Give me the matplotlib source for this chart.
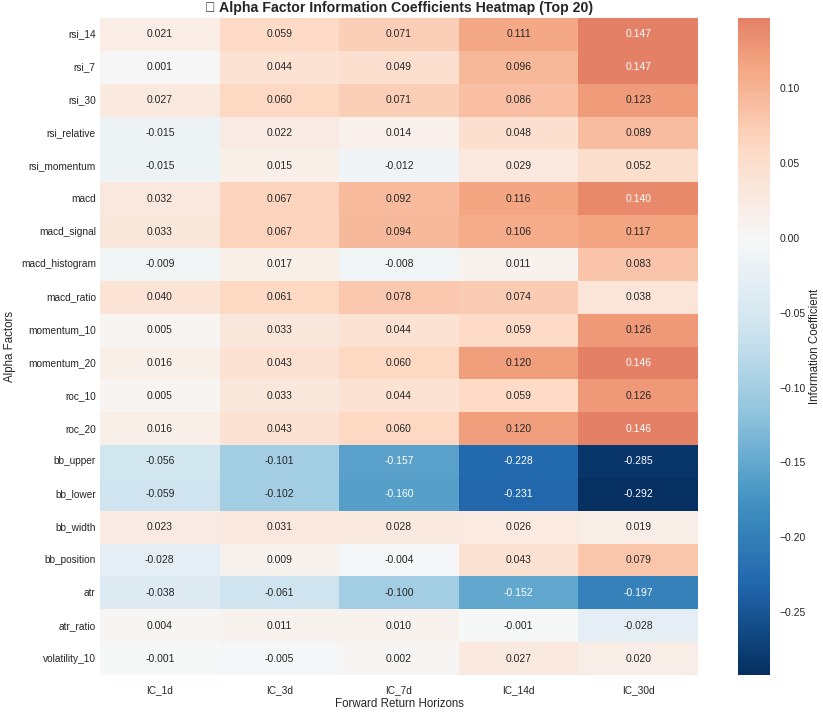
import numpy as np
import pandas as pd
import matplotlib
matplotlib.use("Agg")
import matplotlib.pyplot as plt
import seaborn as sns

factors = ["rsi_14", "rsi_7", "rsi_30", "rsi_relative", "rsi_momentum", "macd",
           "macd_signal", "macd_histogram", "macd_ratio", "momentum_10", "momentum_20",
           "roc_10", "roc_20", "bb_upper", "bb_lower", "bb_width", "bb_position",
           "atr", "atr_ratio", "volatility_10"]
horizons = ["IC_1d", "IC_3d", "IC_7d", "IC_14d", "IC_30d"]

ic_1d = [0.021, 0.001, 0.027, -0.015, -0.015, 0.032, 0.033, -0.009, 0.040, 0.005,
         0.016, 0.005, 0.016, -0.056, -0.059, 0.023, -0.028, -0.038, 0.004, -0.001]
ic_3d = [0.059, 0.044, 0.060, 0.022, 0.015, 0.067, 0.067, 0.017, 0.061, 0.033,
         0.043, 0.033, 0.043, -0.101, -0.102, 0.031, 0.009, -0.061, 0.011, -0.005]
ic_7d = [0.071, 0.049, 0.071, 0.014, -0.012, 0.092, 0.094, -0.008, 0.078, 0.044,
         0.060, 0.044, 0.060, -0.157, -0.160, 0.028, -0.004, -0.100, 0.010, 0.002]
ic_14d = [0.111, 0.096, 0.086, 0.048, 0.029, 0.116, 0.106, 0.011, 0.074, 0.059,
          0.120, 0.059, 0.120, -0.228, -0.231, 0.026, 0.043, -0.152, -0.001, 0.027]
ic_30d = [0.147, 0.147, 0.123, 0.089, 0.052, 0.140, 0.117, 0.083, 0.038, 0.126,
          0.146, 0.126, 0.146, -0.285, -0.292, 0.019, 0.079, -0.197, -0.028, 0.020]

df = pd.DataFrame({"IC_1d": ic_1d, "IC_3d": ic_3d, "IC_7d": ic_7d,
                   "IC_14d": ic_14d, "IC_30d": ic_30d}, index=factors)[horizons]

plt.style.use("seaborn-v0_8")
plt.rcParams['font.family'] = ['Liberation Sans', 'DejaVu Sans']

W, H = 823, 712
fig = plt.figure(figsize=(W / 100, H / 100), dpi=100)
ax = fig.add_axes([100 / W, (H - 675) / H, 598 / W, 657 / H])
cax = fig.add_axes([738 / W, (H - 675) / H, 32 / W, 657 / H])

sns.heatmap(df, annot=True, fmt=".3f", cmap="RdBu_r", center=0, ax=ax, cbar_ax=cax,
            annot_kws={"size": 7.5},
            cbar_kws={"label": "Information Coefficient"})
ax.set_title("📊 Alpha Factor Information Coefficients Heatmap (Top 20)",
             fontsize=10.2, fontweight="bold", pad=4)
ax.set_xlabel("Forward Return Horizons", fontsize=8.3)
ax.set_ylabel("Alpha Factors", fontsize=8.3)
ax.yaxis.set_label_coords(-84 / 598, 0.5)
ax.xaxis.set_label_coords(0.5, -23 / 657)
ax.tick_params(axis="both", labelsize=7.3)
ax.tick_params(axis="y", pad=3)
plt.setp(ax.get_yticklabels(), rotation=0)
cax.tick_params(labelsize=7.5)
cax.yaxis.label.set_size(8.3)
cax.yaxis.labelpad = 2

fig.savefig("out.png", dpi=100)
